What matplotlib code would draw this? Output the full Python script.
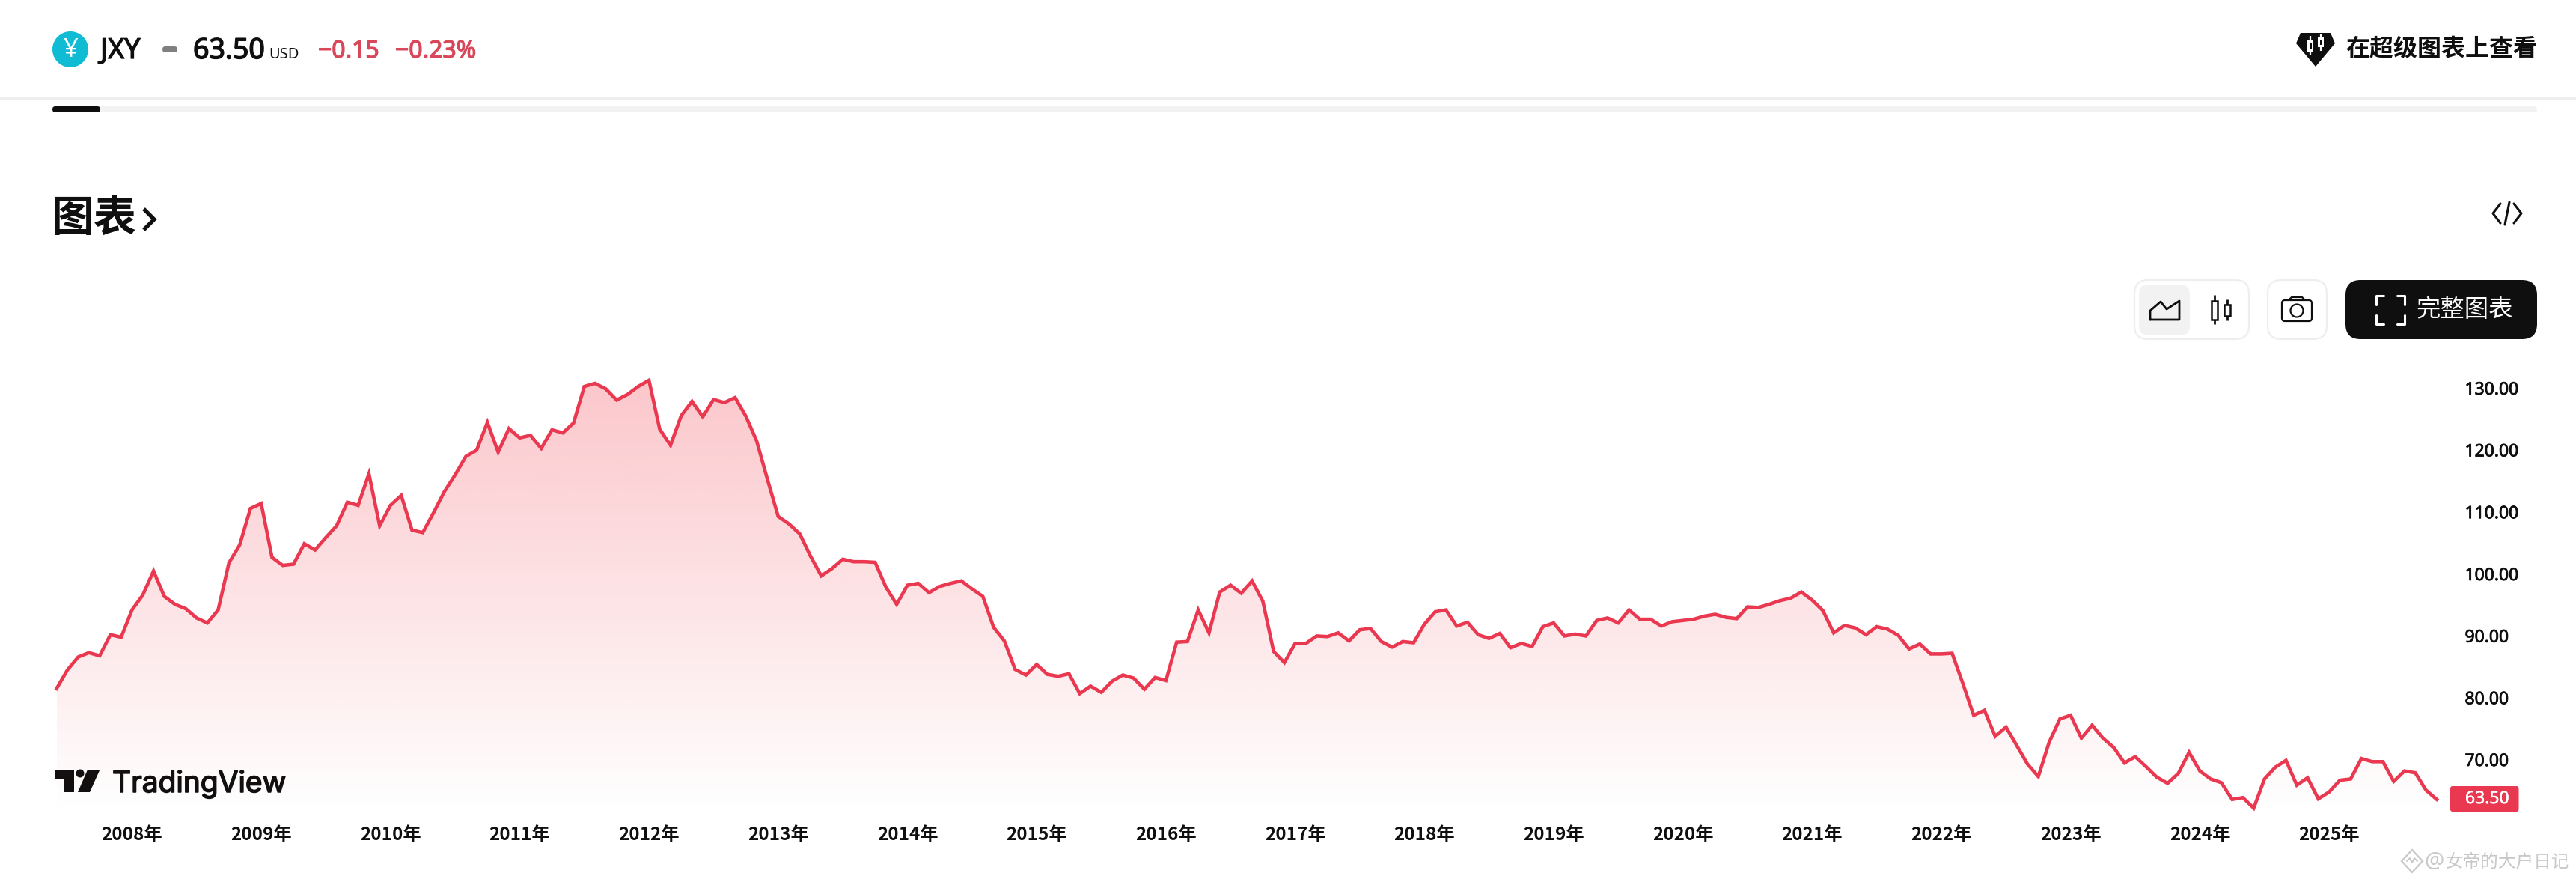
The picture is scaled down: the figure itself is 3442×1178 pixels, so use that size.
import numpy as np
import matplotlib
matplotlib.use("Agg")
import matplotlib.pyplot as plt
import matplotlib.patheffects as pe
from matplotlib.patches import FancyBboxPatch, Circle, Polygon, Rectangle

W, H = 3442, 1178
LATIN = ['Noto Sans', 'Noto Sans CJK SC', 'DejaVu Sans']
CJK = ['Noto Sans CJK SC', 'DejaVu Sans']
plt.rcParams['font.family'] = LATIN

# --- data ---
symbol = "JXY"
last_price = "63.50"
currency = "USD"
change_abs = "\u22120.15"
change_pct = "\u22120.23%"
start_month = 6        # June 2007 is the first monthly close
start_year = 2007
closes_2007_2013 = [
    81.4, 84.4, 86.5, 87.2, 86.7, 90.1, 89.7, 94.1, 96.5, 100.4, 96.3, 95.0, 94.3, 92.8, 92.0,
    94.1, 101.7, 104.6, 110.5, 111.3, 102.6, 101.3, 101.5, 104.8, 103.8, 105.8, 107.7, 111.5, 111.0, 116.1,
    107.7, 111.0, 112.6, 107.0, 106.6, 109.8, 113.2, 115.9, 118.9, 119.9, 124.4, 119.6, 123.4, 121.9, 122.3,
    120.2, 123.2, 122.7, 124.3, 130.2, 130.7, 129.8, 128.0, 128.9, 130.2, 131.2, 123.3, 120.7, 125.5, 127.8,
    125.3, 128.1, 127.6, 128.4, 125.4, 121.4, 115.2, 109.2, 108.0, 106.4, 102.8, 99.6, 100.8, 102.3, 101.9,
]
closes_2013_2020 = [
    101.9, 101.8, 97.8, 95.0, 98.1, 98.4, 96.9, 97.9, 98.4, 98.8, 97.5, 96.3, 91.3, 89.1, 84.5, 83.6,
    85.3, 83.7, 83.4, 83.8, 80.6, 81.8, 80.8, 82.6, 83.6, 83.1, 81.3, 83.2, 82.7, 88.9, 89.0, 94.1,
    90.4, 97.0, 98.1, 96.8, 98.8, 95.5, 87.4, 85.6, 88.7, 88.7, 89.9, 89.8, 90.4, 89.1, 90.9, 91.1,
    89.0, 88.1, 89.0, 88.8, 91.8, 93.8, 94.1, 91.5, 92.1, 90.1, 89.5, 90.3, 88.0, 88.7, 88.2, 91.4,
    92.0, 89.9, 90.2, 89.9, 92.4, 92.8, 92.0, 94.1, 92.6, 92.6, 91.5, 92.2, 92.4, 92.6, 93.1, 93.4,
]
closes_2020_2025 = [
    92.9, 92.7, 94.6, 94.5, 95.0, 95.6, 96.0, 97.0, 95.7, 94.0, 90.4, 91.6, 91.2, 90.1, 91.4, 91.0,
    90.0, 87.8, 88.6, 87.0, 87.0, 87.1, 82.2, 77.1, 77.9, 73.7, 75.2, 72.2, 69.2, 67.2, 72.7, 76.5,
    77.1, 73.4, 75.5, 73.4, 71.9, 69.4, 70.4, 68.8, 67.1, 66.1, 67.7, 71.1, 68.1, 66.8, 66.2, 63.5,
    63.8, 62.1, 66.8, 68.7, 69.8, 65.8, 67.0, 63.6, 64.7, 66.6, 66.8, 70.1, 69.6, 69.6, 66.4, 68.1,
    67.8, 65.0, 63.5,
]
closes = np.array(closes_2007_2013 + closes_2013_2020 + closes_2020_2025)
year_ticks = list(range(2008, 2026))
price_ticks = [70, 80, 90, 100, 110, 120, 130]

LINE = '#E9384F'
INK = '#0F0F0F'
RED_TXT = '#D9475A'
GREY = '#EEEEEE'

fig = plt.figure(figsize=(W / 100, H / 100), dpi=100, facecolor='white')

# --- page chrome, in pixels ---
bg = fig.add_axes([0, 0, 1, 1], zorder=0)
bg.set_xlim(0, W)
bg.set_ylim(H, 0)
bg.axis('off')


def rbox(x0, y0, x1, y1, r, fc='none', ec='none', lw=0, z=2):
    bg.add_patch(FancyBboxPatch((x0, y0), x1 - x0, y1 - y0, boxstyle=f"round,pad=0,rounding_size={r}",
                                fc=fc, ec=ec, lw=lw, zorder=z))


def heavier(artist, width, color):
    artist.set_path_effects([pe.withStroke(linewidth=width, foreground=color)])


def txt(x, y, s, size, color=INK, weight='normal', ha='left', va='baseline', family=None, z=5, thick=0):
    t = bg.text(x, y, s, fontsize=size, color=color, fontweight=weight, ha=ha, va=va,
                family=family or LATIN, zorder=z)
    if thick:
        heavier(t, thick, color)
    return t


def stroke(xs, ys, color=INK, lw=2.0, z=4, cap='round', join='round'):
    bg.plot(xs, ys, color=color, lw=lw, solid_capstyle=cap, solid_joinstyle=join, zorder=z)


# header
bg.add_patch(Circle((94, 66), 24, fc='#0FBCD4', ec='none', zorder=3))
txt(94, 67, '\u00a5', 25, color='white', weight='bold', ha='center', va='center')
txt(134, 78, symbol, 27, thick=0.9)
rbox(217, 62, 237, 70, 4, fc='#808080')
txt(258, 78, last_price, 27, thick=1.1)
txt(359, 78, currency, 14.5)
txt(425, 77, change_abs, 23, color=RED_TXT, thick=0.9)
txt(528, 77, change_pct, 23, color=RED_TXT, thick=0.9)

bg.add_patch(Polygon([(3074, 44), (3114, 44), (3120, 58), (3094, 89), (3068, 58)], closed=True, fc=INK, ec='none', zorder=3))
for cx, wy0, wy1, by0, by1 in [(3087, 48, 74, 54, 69), (3101, 46, 68, 50, 63)]:
    stroke([cx, cx], [wy0, wy1], color='white', lw=1.6, cap='butt')
    bg.add_patch(Rectangle((cx - 4, by0), 8, by1 - by0, fc='white', ec='none', zorder=5))
    bg.add_patch(Rectangle((cx - 1.5, by0 + 3), 3, by1 - by0 - 6, fc=INK, ec='none', zorder=6))
txt(3134, 66, '\u5728\u8d85\u7ea7\u56fe\u8868\u4e0a\u67e5\u770b', 23, weight='bold', va='center', family=CJK)

bg.add_patch(Rectangle((0, 130), W, 2.5, fc=GREY, ec='none', zorder=1))
rbox(70, 142, 3390, 150, 4, fc='#F2F2F2')
rbox(70, 142, 134, 150, 4, fc=INK, z=3)

# section title
txt(69, 292, '\u56fe\u8868', 41, weight='bold', va='center', family=CJK)
stroke([192, 206, 192], [279, 293, 307], lw=3.8, cap='butt', join='miter')
stroke([3341, 3331, 3341], [272, 285, 298], lw=2.2)
stroke([3359, 3369, 3359], [272, 285, 298], lw=2.2)
stroke([3353, 3347], [270, 300], lw=2.2)

# toolbar
rbox(2852, 374, 3005, 453, 18, fc='white', ec=GREY, lw=1.6)
rbox(2858, 380, 2926, 448, 13, fc='#F2F2F2', z=3)
stroke([2873, 2873, 2887, 2895, 2912, 2912, 2873], [427, 415, 403, 413, 402, 427, 427], lw=2.0)
stroke([2959, 2959], [394, 402], cap='butt')
stroke([2959, 2959], [427, 433], cap='butt')
bg.add_patch(Rectangle((2955, 402), 8, 25, fc='white', ec=INK, lw=1.8, zorder=4))
stroke([2975.5, 2975.5], [400, 407], cap='butt')
stroke([2975.5, 2975.5], [422, 428], cap='butt')
bg.add_patch(Rectangle((2971.5, 407), 8, 15, fc='white', ec=INK, lw=1.8, zorder=4))
rbox(3030, 374, 3109, 453, 18, fc='white', ec=GREY, lw=1.6)
rbox(3049, 401, 3089, 429, 4, fc='white', ec=INK, lw=1.6, z=4)
stroke([3058, 3062, 3076, 3080], [401, 397, 397, 401], lw=1.6)
bg.add_patch(Circle((3069, 415), 8.5, fc='white', ec=INK, lw=1.6, zorder=5))
rbox(3134, 374, 3390, 453, 20, fc=INK)
for sx, sy in [(-1, -1), (1, -1), (-1, 1), (1, 1)]:
    cx = 3194 + sx * 19
    cy = 413.5 + sy * 19
    stroke([cx - sx * 10, cx, cx], [cy, cy, cy - sy * 12], color='white', lw=2.2)
txt(3229, 414, '\u5b8c\u6574\u56fe\u8868', 23.3, color='white', va='center', family=CJK)

# TradingView mark
bg.add_patch(Polygon([(73, 1028), (99, 1028), (99, 1058), (86, 1058), (86, 1040), (73, 1040)], closed=True, fc=INK, ec='none', zorder=6))
bg.add_patch(Circle((107, 1033), 5.5, fc=INK, ec='none', zorder=6))
bg.add_patch(Polygon([(117, 1028), (133.5, 1028), (120, 1058), (104, 1058)], closed=True, fc=INK, ec='none', zorder=6))
txt(150, 1058, 'TradingView', 28, family=['Inter', 'DejaVu Sans'], z=6, thick=1.1)

# watermark
wm = '#C8C8C8'
bg.add_patch(Polygon([(3223, 1135), (3237, 1150), (3223, 1165), (3209, 1150)], closed=True, fc='none', ec=wm, lw=1.6, zorder=6))
stroke([3216, 3220, 3223, 3226, 3230], [1150, 1146, 1152, 1146, 1150], color=wm, lw=1.4, z=6)
txt(3239, 1151, '@', 21, color=wm, va='center', z=6)
txt(3268, 1151, '\u5973\u5e1d\u7684\u5927\u6237\u65e5\u8bb0', 17, color=wm, va='center', family=CJK, z=6)

# --- chart ---
x0_px, x1_px, top_px, bot_px = 75.6, 3256.0, 450.0, 1085.0
ax = fig.add_axes([x0_px / W, 1 - bot_px / H, (x1_px - x0_px) / W, (bot_px - top_px) / H], zorder=1)
ax.patch.set_alpha(0)
months = np.arange(len(closes))
ylim = (70 - (1085 - 1014) / 8.27, 70 + (1014 - 450) / 8.27)
for s in ax.spines.values():
    s.set_visible(False)

fill = ax.fill_between(months, closes, ylim[0], color='none', lw=0)
grad = np.zeros((256, 1, 4))
grad[..., 0], grad[..., 1], grad[..., 2] = 242 / 255, 54 / 255, 69 / 255
grad[..., 3] = np.linspace(0.28, 0.0, 256).reshape(-1, 1)
im = ax.imshow(grad, extent=(0, 221, ylim[0], closes.max()), aspect='auto', origin='upper', zorder=1)
im.set_clip_path(fill.get_paths()[0], transform=ax.transData)
ax.set_xlim(0, 221)
ax.set_ylim(*ylim)
ax.plot(months, closes, color=LINE, lw=3.3, solid_joinstyle='miter', zorder=3, clip_on=False)

first_jan = (2008 - start_year) * 12 + 1 - start_month
ax.set_xticks([first_jan + 12 * i for i in range(len(year_ticks))])
ax.set_xticklabels([f'{y}\u5e74' for y in year_ticks], family=CJK, fontsize=17.5, color=INK, fontweight='bold')
ax.yaxis.tick_right()
ax.set_yticks(price_ticks)
ax.set_yticklabels([f'{v:.2f}' for v in price_ticks], fontsize=16.5, color=INK)
for lab in ax.get_yticklabels():
    heavier(lab, 0.6, INK)
ax.tick_params(axis='both', length=0)
ax.tick_params(axis='x', pad=13)
ax.tick_params(axis='y', pad=27)

# last-price tag
rbox(3274, 1050, 3365.5, 1084, 3, fc=LINE)
txt(3294, 1067, f'{closes[-1]:.2f}', 16.5, color='white', va='center', thick=0.4)

fig.savefig('out.png', dpi=100, facecolor='white')
